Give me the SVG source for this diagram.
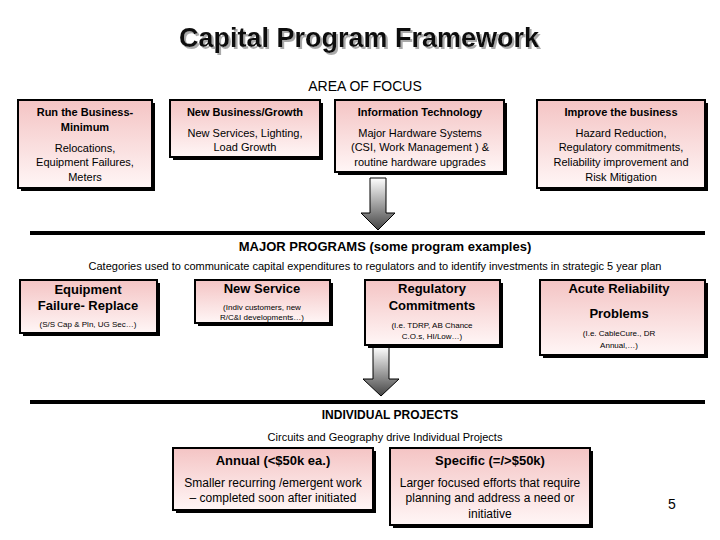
<svg xmlns="http://www.w3.org/2000/svg" width="720" height="540" viewBox="0 0 720 540">
<defs>
<linearGradient id="pk" x1="0" y1="0" x2="0" y2="1"><stop offset="0" stop-color="#f4c4c4"/><stop offset="1" stop-color="#fff6f6"/></linearGradient>
<linearGradient id="arv" x1="0" y1="0" x2="0" y2="1"><stop offset="0" stop-color="#fff"/><stop offset="1" stop-color="#444"/></linearGradient>
<filter id="ds" x="-5%" y="-20%" width="110%" height="150%"><feDropShadow dx="2" dy="2" stdDeviation="0.5" flood-color="#aaa"/></filter>
</defs>
<style>
.bx{fill:url(#pk);stroke:#000;stroke-width:2}
.sh{fill:#000}
text{font-family:"Liberation Sans",Arial,sans-serif;fill:#000;text-anchor:middle}
.h{font-size:11px;font-weight:bold}
.t{font-size:11px}
.s{font-size:8px}
.h2{font-size:13px;font-weight:bold}
.ar{fill:url(#arv);stroke:#000;stroke-width:1}
</style>
<rect width="720" height="540" fill="#fff"/>
<text x="359" y="47" filter="url(#ds)" style="font-size:27px;font-weight:bold;fill:#111">Capital Program Framework</text>
<text x="365" y="91" class="t" style="font-size:14px">AREA OF FOCUS</text>

<g id="n1"><rect x="21" y="103" width="134" height="88" class="sh"/><rect x="18" y="100" width="134" height="88" class="bx"/>
<text x="85" y="116" class="h">Run the Business-</text><text x="85" y="131" class="h">Minimum</text>
<text x="85" y="152" class="t">Relocations,</text><text x="85" y="166" class="t">Equipment Failures,</text><text x="85" y="181" class="t">Meters</text></g>
<g id="n2"><rect x="173" y="103" width="150" height="57" class="sh"/><rect x="170" y="100" width="150" height="57" class="bx"/>
<text x="245" y="116" class="h">New Business/Growth</text>
<text x="245" y="137" class="t">New Services, Lighting,</text><text x="245" y="151" class="t">Load Growth</text></g>
<g id="n3"><rect x="338" y="103" width="169" height="72" class="sh"/><rect x="335" y="100" width="169" height="72" class="bx"/>
<text x="420" y="116" class="h">Information Technology</text>
<text x="420" y="137" class="t">Major Hardware Systems</text><text x="420" y="151" class="t">(CSI, Work Management ) &amp;</text><text x="420" y="166" class="t">routine hardware upgrades</text></g>
<g id="n4"><rect x="540" y="103" width="168" height="88" class="sh"/><rect x="537" y="100" width="168" height="88" class="bx"/>
<text x="621" y="116" class="h">Improve the business</text>
<text x="621" y="137" class="t">Hazard Reduction,</text><text x="621" y="151" class="t">Regulatory commitments,</text><text x="621" y="166" class="t">Reliability improvement and</text><text x="621" y="181" class="t">Risk Mitigation</text></g>

<g id="connectors">
<path d="M370 178 H386 V213 H395 L378 230 L361 213 H370 Z" class="ar"/>
<rect x="30" y="231" width="675" height="4" fill="#000"/>
<path d="M373 347 H389 V379 H399 L381 396 L363 379 H373 Z" class="ar"/>
<rect x="30" y="400" width="675" height="4" fill="#000"/>
</g>

<text x="385" y="251" class="h2">MAJOR PROGRAMS (some program examples)</text>
<text x="375" y="270" class="t">Categories used to communicate capital expenditures to regulators and to identify investments in strategic 5 year plan</text>

<g id="n5"><rect x="23" y="283" width="137" height="53" class="sh"/><rect x="20" y="280" width="137" height="53" class="bx"/>
<text x="88" y="294" class="h2">Equipment</text><text x="88" y="310" class="h2">Failure- Replace</text>
<text x="88" y="327" class="s">(S/S Cap &amp; Pln, UG Sec…)</text></g>
<g id="n6"><rect x="198" y="283" width="135" height="43" class="sh"/><rect x="195" y="280" width="135" height="43" class="bx"/>
<text x="262" y="293" class="h2">New Service</text>
<text x="262" y="310" class="s">(Indiv customers, new</text><text x="262" y="320" class="s">R/C&amp;I developments…)</text></g>
<g id="n7"><rect x="368" y="283" width="135" height="65" class="sh"/><rect x="365" y="280" width="135" height="65" class="bx"/>
<text x="432" y="293" class="h2">Regulatory</text><text x="432" y="310" class="h2">Commitments</text>
<text x="432" y="328" class="s">(I.e. TDRP, AB Chance</text><text x="432" y="339" class="s">C.O.s, HI/Low…)</text></g>
<g id="n8"><rect x="543" y="283" width="165" height="75" class="sh"/><rect x="540" y="280" width="165" height="75" class="bx"/>
<text x="619" y="293" class="h2">Acute Reliability</text><text x="619" y="318" class="h2">Problems</text>
<text x="619" y="336" class="s">(I.e. CableCure., DR</text><text x="619" y="348" class="s">Annual,…)</text></g>

<text x="390" y="419" class="h2" style="font-size:12px">INDIVIDUAL PROJECTS</text>
<text x="385" y="441" class="t">Circuits and Geography drive Individual Projects</text>

<g id="n9"><rect x="176" y="451" width="200" height="62" class="sh"/><rect x="173" y="448" width="200" height="62" class="bx"/>
<text x="273" y="465" class="h2">Annual (&lt;$50k ea.)</text>
<text x="273" y="487" class="t" style="font-size:12px">Smaller recurring /emergent work</text><text x="273" y="502" class="t" style="font-size:12px">– completed soon after initiated</text></g>
<g id="n10"><rect x="393" y="451" width="200" height="77" class="sh"/><rect x="390" y="448" width="200" height="77" class="bx"/>
<text x="490" y="465" class="h2">Specific (=/&gt;$50k)</text>
<text x="490" y="487" class="t" style="font-size:12px">Larger focused efforts that require</text><text x="490" y="502" class="t" style="font-size:12px">planning and address a need or</text><text x="490" y="518" class="t" style="font-size:12px">initiative</text></g>

<text x="672" y="509" class="t" style="font-size:14px">5</text>
</svg>
